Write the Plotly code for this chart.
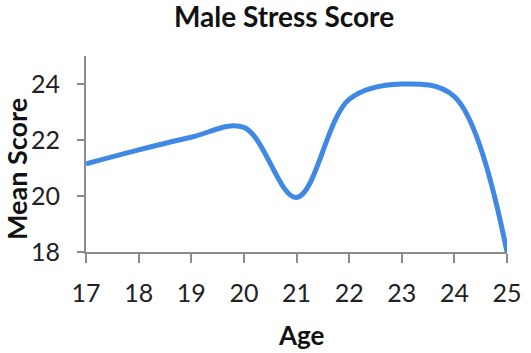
import plotly.graph_objects as go

ages = [17, 18, 19, 20, 21, 22, 23, 24, 25]
mean_score = [21.15, 21.65, 22.1, 22.45, 19.95, 23.45, 24.0, 23.55, 18.0]
x_ticks = [17, 18, 19, 20, 21, 22, 23, 24, 25]
y_ticks = [18, 20, 22, 24]

FONT = "Lato"
W, H = 531, 353
L, R, T, B = 86, 24, 56, 101
PW, PH = W - L - R, H - T - B


def px_x(p):
    return (p - L) / PW


def px_y(p):
    return (H - B - p) / PH


fig = go.Figure(go.Scatter(
    x=ages, y=mean_score, mode="lines",
    line=dict(color="#3f88e3", width=5, shape="spline", smoothing=1.0),
    hoverinfo="skip",
))

fig.update_layout(
    width=W, height=H,
    margin=dict(l=L, r=R, t=T, b=B),
    paper_bgcolor="white", plot_bgcolor="white",
    showlegend=False,
    title=dict(text="<b>Male Stress Score</b>", xref="container", yref="container",
               x=284 / W, xanchor="center", y=1 - 17 / H, yanchor="middle",
               font=dict(family=FONT, size=28, color="#111")),
    font=dict(family=FONT, color="#222"),
    annotations=[
        dict(text="<b>Age</b>", xref="paper", yref="paper", x=px_x(301), y=px_y(335),
             xanchor="center", yanchor="middle", showarrow=False,
             font=dict(family=FONT, size=26, color="#111")),
        dict(text="<b>Mean Score</b>", xref="paper", yref="paper", x=px_x(16), y=px_y(169),
             xanchor="center", yanchor="middle", showarrow=False, textangle=-90,
             font=dict(family=FONT, size=27, color="#111")),
    ],
)

fig.update_xaxes(
    range=[17, 25], tickvals=x_ticks, showgrid=False, zeroline=False,
    showline=True, linecolor="#8c8c8c", linewidth=2,
    ticks="outside", ticklen=9, tickwidth=2, tickcolor="#8c8c8c",
    ticklabelstandoff=9, automargin=False,
    tickfont=dict(family=FONT, size=25, color="#222"),
)
fig.update_yaxes(
    range=[18, 25], tickvals=y_ticks, showgrid=False, zeroline=False,
    showline=True, linecolor="#8c8c8c", linewidth=2,
    ticks="outside", ticklen=7, tickwidth=2, tickcolor="#8c8c8c",
    ticklabelstandoff=12, automargin=False,
    tickfont=dict(family=FONT, size=25, color="#222"),
)

fig.write_html("out.html", config={"displayModeBar": False},
               post_script="document.body.style.margin='0';")
